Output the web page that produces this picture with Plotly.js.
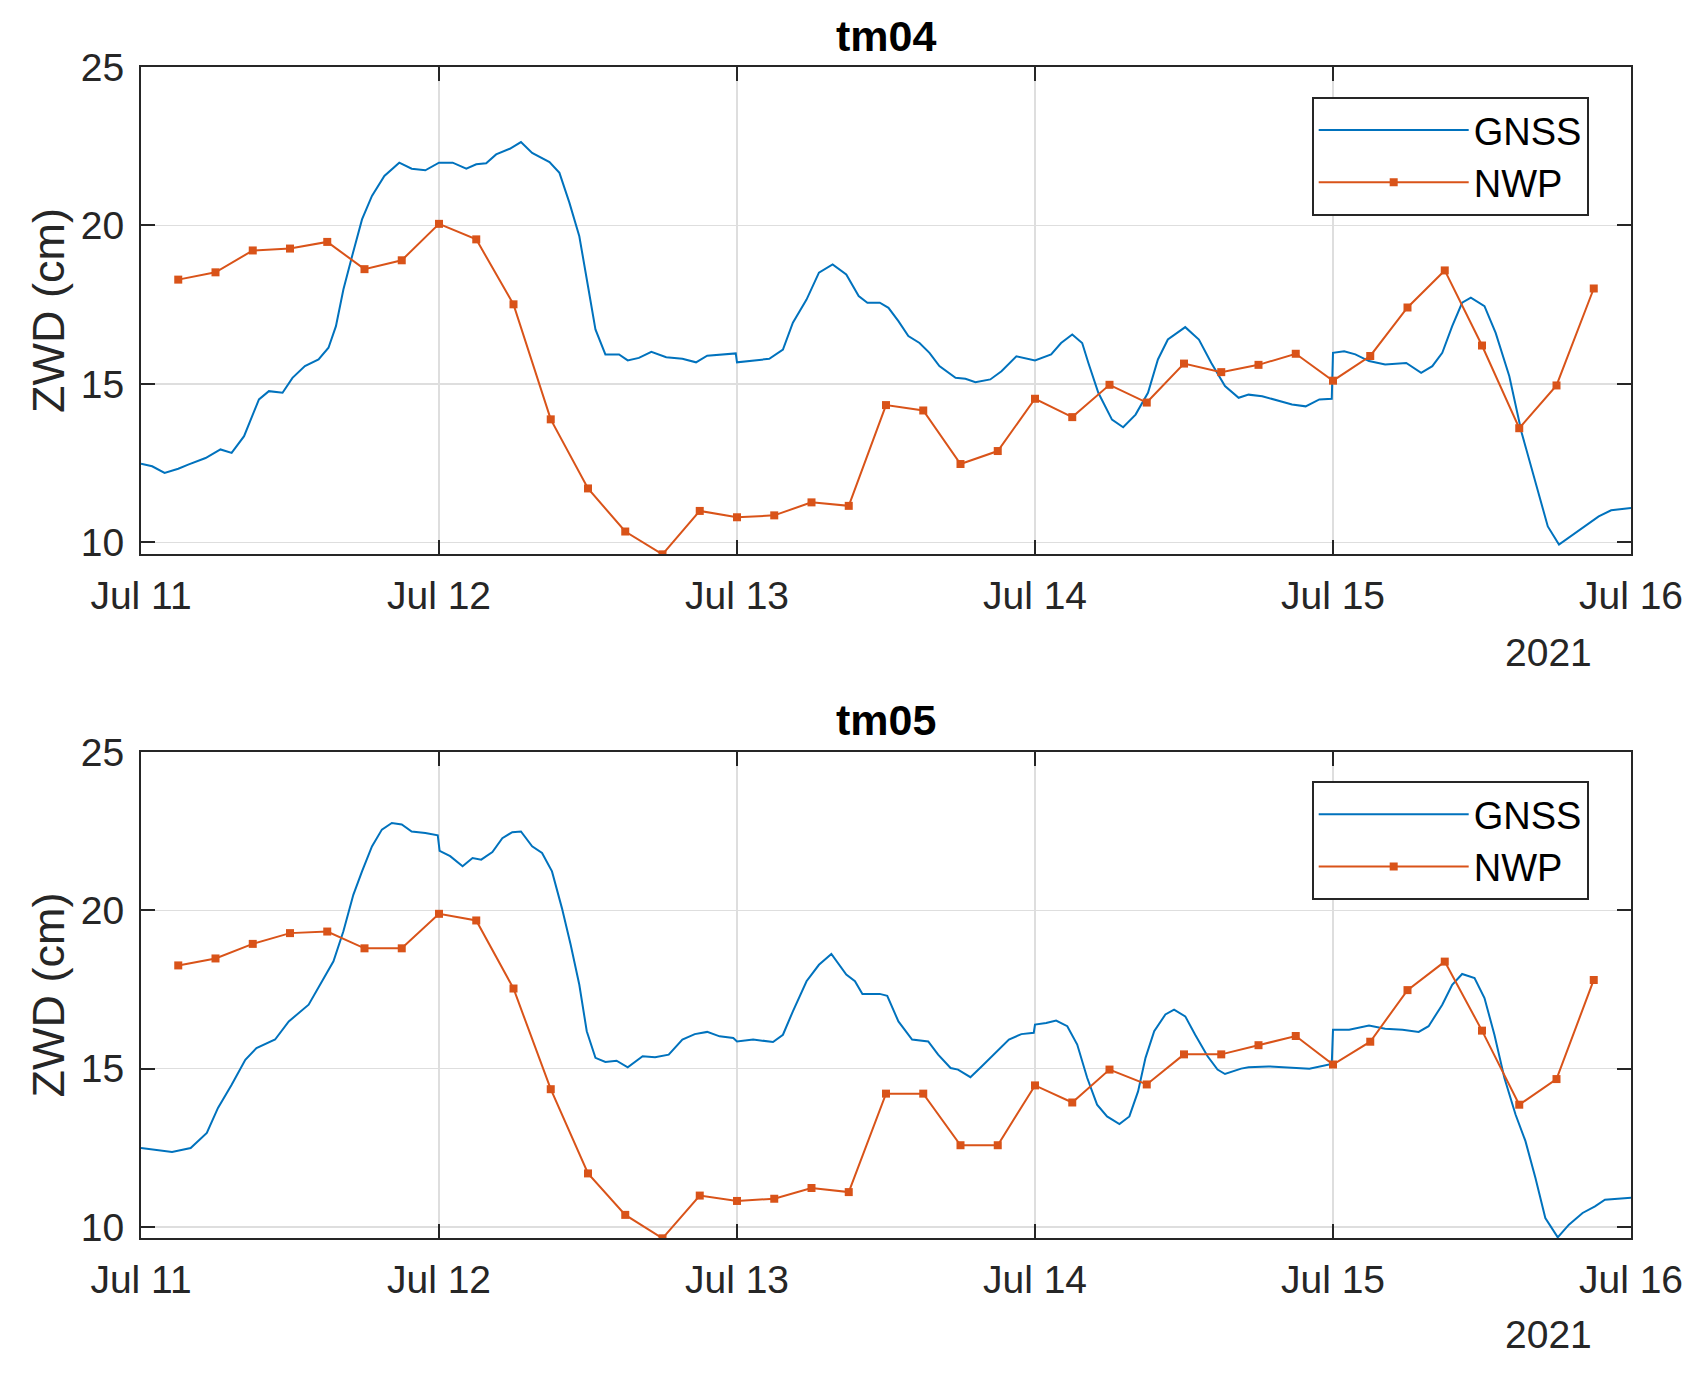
<!DOCTYPE html>
<html>
<head>
<meta charset="utf-8">
<script src="https://cdn.plot.ly/plotly-3.0.1.min.js"></script>
<style>
  html, body { margin: 0; padding: 0; background: #ffffff; }
  #chart { width: 1705px; height: 1374px; }
</style>
</head>
<body>
<div id="chart"></div>
<script>
// ---------------- DATA (hours after 2021-07-11 00:00) ----------------
const stationNames = ['tm04', 'tm05'];
const seriesNames = ['GNSS', 'NWP'];
const dayTickLabels = ['Jul 11', 'Jul 12', 'Jul 13', 'Jul 14', 'Jul 15', 'Jul 16'];
const yearLabel = '2021';
const yTickValues = [10, 15, 20, 25];

const nwpHours = [3, 6, 9, 12, 15, 18, 21, 24, 27, 30, 33, 36, 39, 42, 45, 48, 51, 54, 57,
  60, 63, 66, 69, 72, 75, 78, 81, 84, 87, 90, 93, 96, 99, 102, 105, 108, 111, 114, 117];

const nwpTm04 = [18.29, 18.52, 19.21, 19.27, 19.48, 18.62, 18.90, 20.05, 19.56, 17.51, 13.88,
  11.70, 10.34, 9.62, 10.99, 10.79, 10.85, 11.26, 11.15, 14.33, 14.16, 12.47, 12.88, 14.53,
  13.95, 14.97, 14.41, 15.64, 15.37, 15.60, 15.95, 15.10, 15.88, 17.41, 18.58, 16.21, 13.60,
  14.95, 18.01];

const nwpTm05 = [18.26, 18.48, 18.94, 19.28, 19.33, 18.80, 18.80, 19.89, 19.68, 17.53, 14.35,
  11.69, 10.38, 9.64, 10.99, 10.82, 10.89, 11.23, 11.10, 14.21, 14.21, 12.58, 12.58, 14.47,
  13.93, 14.97, 14.50, 15.45, 15.45, 15.74, 16.03, 15.13, 15.85, 17.48, 18.38, 16.20, 13.86,
  14.67, 17.80];

const gnssTm04Hours = [0, 0.9, 1.9, 3.0, 3.8, 5.2, 6.4, 7.3, 8.3, 9.5, 10.3, 11.4, 12.2, 13.2,
  14.3, 15.1, 15.7, 16.3, 17.0, 17.8, 18.6, 19.6, 20.8, 21.8, 22.9, 24.0, 25.1, 26.2, 27.0,
  27.8, 28.6, 29.7, 30.6, 31.5, 32.9, 33.7, 34.5, 35.3, 36.0, 36.6, 37.4, 38.5, 39.2, 40.1,
  41.1, 42.3, 43.6, 44.7, 45.6, 47.9, 48.0, 49.3, 50.6, 51.7, 52.5, 53.6, 54.6, 55.7, 56.8,
  57.8, 58.5, 59.5, 60.2, 61.0, 61.8, 62.7, 63.5, 64.3, 65.6, 66.4, 67.2, 68.4, 69.3, 70.5,
  72.0, 73.3, 74.1, 75.0, 75.8, 76.3, 77.1, 78.2, 79.1, 80.1, 81.1, 81.9, 82.7, 84.1, 85.2,
  86.2, 87.3, 88.4, 89.2, 90.3, 91.7, 92.7, 93.8, 94.9, 95.9, 96.0, 96.9, 97.8, 98.9, 100.2,
  101.9, 103.1, 104.0, 104.8, 105.6, 106.4, 107.1, 108.2, 109.1, 110.2, 111.2, 112.3, 113.3,
  114.2, 115.3, 116.3, 117.4, 118.4, 120.0];

const gnssTm04 = [12.48, 12.40, 12.19, 12.32, 12.45, 12.66, 12.93, 12.82, 13.35, 14.51, 14.77,
  14.72, 15.19, 15.56, 15.77, 16.14, 16.82, 17.98, 19.03, 20.19, 20.93, 21.56, 21.98, 21.79,
  21.74, 21.98, 21.98, 21.79, 21.93, 21.96, 22.24, 22.42, 22.63, 22.29, 22.00, 21.66, 20.72,
  19.66, 18.08, 16.72, 15.93, 15.93, 15.74, 15.82, 16.01, 15.84, 15.79, 15.68, 15.89, 15.96,
  15.68, 15.74, 15.79, 16.08, 16.93, 17.66, 18.51, 18.77, 18.45, 17.77, 17.56, 17.56, 17.40,
  16.98, 16.51, 16.29, 15.98, 15.56, 15.19, 15.16, 15.05, 15.14, 15.40, 15.87, 15.74, 15.93,
  16.29, 16.56, 16.29, 15.66, 14.72, 13.87, 13.63, 14.03, 14.72, 15.77, 16.40, 16.79, 16.40,
  15.66, 14.93, 14.56, 14.66, 14.61, 14.45, 14.35, 14.29, 14.51, 14.53, 15.98, 16.03, 15.93,
  15.72, 15.61, 15.66, 15.35, 15.56, 15.98, 16.82, 17.56, 17.72, 17.45, 16.61, 15.24, 13.45,
  11.87, 10.50, 9.93, 10.24, 10.50, 10.82, 11.01, 11.08];

const gnssTm05Hours = [0, 1.1, 2.5, 4.0, 5.3, 6.2, 7.3, 8.4, 9.3, 10.8, 11.9, 13.5, 14.6, 15.5,
  16.3, 17.1, 17.8, 18.6, 19.4, 20.2, 21.0, 21.8, 22.9, 23.9, 24.05, 24.9, 25.9, 26.7, 27.4,
  28.3, 29.1, 29.9, 30.6, 31.5, 32.3, 33.1, 33.9, 34.6, 35.3, 35.9, 36.6, 37.4, 38.3, 39.2,
  40.4, 41.4, 42.5, 43.6, 44.6, 45.6, 46.6, 47.7, 48.0, 49.3, 50.9, 51.7, 52.5, 53.6, 54.6,
  55.6, 56.8, 57.5, 58.1, 59.5, 60.1, 61.0, 62.1, 63.4, 64.2, 65.2, 65.8, 66.8, 67.7, 68.8,
  69.9, 70.9, 71.9, 72.0, 72.9, 73.7, 74.6, 75.4, 76.2, 77.0, 77.8, 78.8, 79.6, 80.3, 80.9,
  81.6, 82.5, 83.2, 84.1, 84.9, 85.9, 86.7, 87.3, 88.6, 89.2, 90.8, 92.4, 94.1, 95.9, 96.0,
  97.3, 98.9, 100.2, 101.6, 102.9, 103.7, 104.8, 105.6, 106.4, 107.4, 108.2, 109.0, 109.8,
  110.7, 111.5, 112.3, 113.1, 114.1, 115.0, 116.1, 117.1, 117.9, 120.0];

const gnssTm05 = [12.49, 12.44, 12.37, 12.49, 12.97, 13.76, 14.49, 15.28, 15.65, 15.92, 16.49,
  17.02, 17.76, 18.39, 19.34, 20.49, 21.23, 22.02, 22.55, 22.76, 22.71, 22.49, 22.44, 22.37,
  21.88, 21.71, 21.39, 21.65, 21.60, 21.84, 22.28, 22.47, 22.49, 22.02, 21.81, 21.23, 20.07,
  18.92, 17.65, 16.18, 15.34, 15.21, 15.25, 15.04, 15.39, 15.36, 15.44, 15.92, 16.09, 16.16,
  16.02, 15.97, 15.86, 15.92, 15.84, 16.07, 16.81, 17.76, 18.28, 18.62, 17.97, 17.76, 17.36,
  17.36, 17.30, 16.49, 15.92, 15.86, 15.44, 15.02, 14.97, 14.73, 15.07, 15.49, 15.92, 16.09,
  16.13, 16.39, 16.44, 16.52, 16.34, 15.76, 14.71, 13.86, 13.49, 13.25, 13.49, 14.28, 15.34,
  16.18, 16.71, 16.86, 16.65, 16.07, 15.39, 14.97, 14.83, 15.00, 15.04, 15.07, 15.04, 15.00,
  15.15, 16.23, 16.23, 16.36, 16.26, 16.23, 16.16, 16.34, 17.02, 17.65, 17.99, 17.86, 17.23,
  16.07, 14.71, 13.55, 12.71, 11.55, 10.28, 9.67, 10.07, 10.44, 10.65, 10.86, 10.92];

const dayTickHours = [0, 24, 48, 72, 96, 120];

// ---------------- helpers ----------------
const T0 = Date.UTC(2021, 6, 11, 0, 0, 0);
function toDate(h) {
  const d = new Date(T0 + Math.round(h * 3600000));
  return d.toISOString().slice(0, 19).replace('T', ' ');
}
const dates = arr => arr.map(toDate);

// ---------------- style ----------------
const FONT = 'Liberation Sans, Arial, Helvetica, sans-serif';
const DARK = '#262626';
const BLUE = '#0072BD';
const ORANGE = '#D95319';

const traces = [
  { x: dates(gnssTm04Hours), y: gnssTm04, name: seriesNames[0], type: 'scatter', mode: 'lines',
    line: { color: BLUE, width: 2 }, xaxis: 'x', yaxis: 'y', legend: 'legend' },
  { x: dates(nwpHours), y: nwpTm04, name: seriesNames[1], type: 'scatter', mode: 'lines+markers',
    line: { color: ORANGE, width: 2 }, marker: { symbol: 'square', size: 8, color: ORANGE },
    xaxis: 'x', yaxis: 'y', legend: 'legend' },
  { x: dates(gnssTm05Hours), y: gnssTm05, name: seriesNames[0], type: 'scatter', mode: 'lines',
    line: { color: BLUE, width: 2 }, xaxis: 'x2', yaxis: 'y2', legend: 'legend2' },
  { x: dates(nwpHours), y: nwpTm05, name: seriesNames[1], type: 'scatter', mode: 'lines+markers',
    line: { color: ORANGE, width: 2 }, marker: { symbol: 'square', size: 8, color: ORANGE },
    xaxis: 'x2', yaxis: 'y2', legend: 'legend2' }
];

function xAxis(anchor) {
  return {
    type: 'date', anchor: anchor, domain: [0, 1],
    range: [toDate(0), toDate(120)],
    tickmode: 'array', tickvals: dates(dayTickHours), ticktext: dayTickLabels,
    ticks: 'inside', ticklen: 14, tickwidth: 2, tickcolor: DARK,
    showline: true, linecolor: DARK, linewidth: 2, mirror: 'ticks',
    showgrid: true, gridcolor: '#dedede', gridwidth: 1.5,
    zeroline: false, ticklabelstandoff: 6,
    tickfont: { family: FONT, size: 39, color: DARK }
  };
}
function yAxis(anchor, domain, range) {
  return {
    anchor: anchor, domain: domain, range: range,
    tickmode: 'array', tickvals: yTickValues, ticktext: yTickValues.map(String),
    ticks: 'inside', ticklen: 14, tickwidth: 2, tickcolor: DARK,
    showline: true, linecolor: DARK, linewidth: 2, mirror: 'ticks',
    showgrid: true, gridcolor: '#dedede', gridwidth: 1.5,
    zeroline: false, ticklabelstandoff: 7,
    tickfont: { family: FONT, size: 39, color: DARK },
    title: { text: 'ZWD (cm)', standoff: 2, font: { family: FONT, size: 45, color: DARK } }
  };
}
function legendBox(y) {
  return {
    x: 0.7857, y: y, xanchor: 'left', yanchor: 'top',
    bgcolor: '#ffffff', bordercolor: DARK, borderwidth: 2,
    font: { family: FONT, size: 38, color: '#000000' },
    itemwidth: 150, tracegroupgap: 0
  };
}

const layout = {
  width: 1705, height: 1374,
  paper_bgcolor: '#ffffff', plot_bgcolor: '#ffffff',
  margin: { l: 141, r: 74, t: 67, b: 136, autoexpand: false },
  showlegend: true,
  xaxis: xAxis('y'),
  yaxis: yAxis('x', [0.5841, 1], [9.63, 25]),
  xaxis2: xAxis('y2'),
  yaxis2: yAxis('x2', [0, 0.415], [9.65, 25]),
  legend: legendBox(0.9746),
  legend2: legendBox(0.3903),
  annotations: [
    { text: '<b>' + stationNames[0] + '</b>', xref: 'paper', yref: 'paper', x: 0.5, y: 1.0265,
      xanchor: 'center', yanchor: 'middle', showarrow: false,
      font: { family: FONT, size: 43, color: '#000000' } },
    { text: '<b>' + stationNames[1] + '</b>', xref: 'paper', yref: 'paper', x: 0.5, y: 0.4424,
      xanchor: 'center', yanchor: 'middle', showarrow: false,
      font: { family: FONT, size: 43, color: '#000000' } },
    { text: yearLabel, xref: 'paper', yref: 'paper', x: 0.9443, y: 0.5004,
      xanchor: 'center', yanchor: 'middle', showarrow: false,
      font: { family: FONT, size: 39, color: DARK } },
    { text: yearLabel, xref: 'paper', yref: 'paper', x: 0.9443, y: -0.0828,
      xanchor: 'center', yanchor: 'middle', showarrow: false,
      font: { family: FONT, size: 39, color: DARK } }
  ]
};

Plotly.newPlot('chart', traces, layout, { displayModeBar: false, staticPlot: true });
</script>
</body>
</html>
